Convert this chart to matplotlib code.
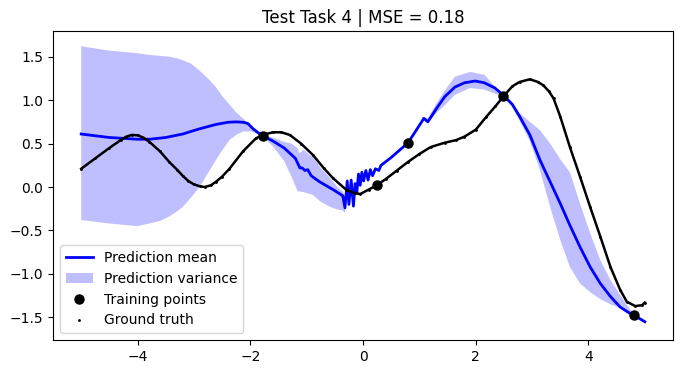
import numpy as np
import matplotlib
matplotlib.use('Agg')
import matplotlib.pyplot as plt

# ground truth
gt_x = [-5.0, -4.75, -4.5, -4.3, -4.2, -4.1, -4.0, -3.9, -3.79, -3.6, -3.44, -3.3, -3.2, -3.1, -3.0,
        -2.9, -2.81, -2.7, -2.61, -2.5, -2.37, -2.13, -1.9, -1.78, -1.6, -1.45, -1.3, -1.1, -0.89, -0.7,
        -0.53, -0.3, -0.15, -0.05, 0.1, 0.24, 0.4, 0.6, 0.8, 1.0, 1.2, 1.45, 1.65, 1.8, 2.0, 2.19,
        2.35, 2.5, 2.65, 2.78, 2.96, 3.1, 3.2, 3.3, 3.38, 3.5, 3.67, 3.85, 4.03, 4.21, 4.39, 4.56,
        4.68, 4.83, 4.95, 5.0]
gt_y = [0.21, 0.33, 0.45, 0.54, 0.58, 0.60, 0.595, 0.57, 0.52, 0.41, 0.29, 0.20, 0.13, 0.07, 0.03,
        0.01, 0.00, 0.02, 0.06, 0.12, 0.21, 0.41, 0.56, 0.60, 0.63, 0.63, 0.60, 0.50, 0.37, 0.22,
        0.10, -0.03, -0.07, -0.08, -0.03, 0.02, 0.09, 0.19, 0.29, 0.38, 0.46, 0.51, 0.54, 0.58, 0.66, 0.81,
        0.93, 1.05, 1.16, 1.21, 1.24, 1.21, 1.17, 1.10, 1.02, 0.81, 0.46, 0.12, -0.23, -0.57, -0.92, -1.18,
        -1.32, -1.37, -1.36, -1.33]

# prediction mean
mean_x = [-5.0, -4.75, -4.5, -4.25, -4.0, -3.79, -3.5, -3.2, -2.9, -2.61, -2.4, -2.25, -2.12, -2.04,
          -1.95, -1.85, -1.78, -1.6, -1.4, -1.2, -1.12, -1.08, -1.03, -0.98, -0.92, -0.77, -0.53, -0.36,
          -0.32, -0.28, -0.25, -0.21, -0.17, -0.14, -0.11, -0.08, -0.05, -0.02, 0.01, 0.05, 0.09, 0.13,
          0.17, 0.22, 0.28, 0.32, 0.5, 0.8, 0.95, 1.08, 1.15, 1.3, 1.45, 1.63, 1.8, 1.99, 2.15, 2.34,
          2.5, 2.65, 2.78, 2.96, 3.14, 3.32, 3.5, 3.67, 3.85, 4.03, 4.21, 4.39, 4.56, 4.7, 4.82, 5.0]
mean_y = [0.61, 0.59, 0.57, 0.56, 0.55, 0.55, 0.57, 0.61, 0.67, 0.72, 0.745, 0.75, 0.745, 0.73,
          0.67, 0.62, 0.59, 0.53, 0.45, 0.33, 0.22, 0.22, 0.19, 0.20, 0.13, 0.06, -0.03, -0.10,
          -0.24, 0.07, -0.20, 0.08, -0.22, 0.04, -0.06, 0.15, 0.02, 0.17, 0.07, 0.19, 0.08, 0.20,
          0.13, 0.21, 0.19, 0.25, 0.34, 0.51, 0.66, 0.79, 0.75, 0.90, 1.04, 1.15, 1.20, 1.22, 1.20, 1.14,
          1.05, 0.95, 0.81, 0.60, 0.31, 0.06, -0.19, -0.44, -0.69, -0.92, -1.11, -1.26, -1.38, -1.44, -1.48, -1.55]

# prediction variance band (nan = gap)
band_x = [-5.0, -4.5, -4.0, -3.79, -3.6, -3.44, -3.3, -3.2, -3.05, -2.9, -2.75, -2.61, -2.49, -2.37,
          -2.25, -2.13, -1.98, -1.88, -1.78, -1.6, -1.4, -1.27, -1.16, -1.13, -1.05, -0.95, -0.89,
          -0.75, -0.58, -0.45, -0.36, -0.32, -0.3,
          1.05, 1.15, 1.3, 1.45, 1.63, 1.9, 2.16, 2.4, 2.5, 2.65, 2.78, 2.96, 3.14, 3.32, 3.5, 3.67,
          3.85, 4.03, 4.21, 4.39, 4.56, 4.74, 4.82, 5.0]
band_lo = [-0.38, -0.42, -0.45, -0.42, -0.39, -0.34, -0.28, -0.23, -0.12, 0.0, 0.16, 0.31, 0.43, 0.54,
           0.60, 0.64, 0.64, 0.61, 0.58, 0.47, 0.30, 0.12, -0.05, -0.05, -0.06, -0.08, -0.09,
           -0.17, -0.23, -0.26, -0.27, -0.30, np.nan,
           0.78, 0.74, 0.85, 0.94, 1.06, 1.14, 1.12, 1.06, 1.04, 0.92, 0.76, 0.53, 0.195, -0.23, -0.61, -0.92,
           -1.11, -1.21, -1.29, -1.35, -1.39, -1.45, -1.49, -1.57]
band_hi = [1.62, 1.57, 1.54, 1.52, 1.51, 1.50, 1.48, 1.46, 1.42, 1.34, 1.25, 1.15, 1.04, 0.95,
           0.86, 0.79, 0.70, 0.63, 0.60, 0.57, 0.52, 0.50, 0.445, 0.39, 0.43, 0.37, 0.35,
           0.22, 0.10, 0.0, -0.05, -0.10, np.nan,
           0.81, 0.79, 0.96, 1.11, 1.27, 1.325, 1.29, 1.11, 1.06, 0.97, 0.85, 0.75, 0.655, 0.50, 0.32, 0.17,
           -0.19, -0.53, -0.84, -1.07, -1.24, -1.41, -1.46, -1.54]

# training points
train_x = [-1.78, 0.24, 0.80, 2.49, 4.81]
train_y = [0.59, 0.02, 0.51, 1.05, -1.47]

fig = plt.figure(figsize=(6.83, 3.74), dpi=100)
ax = fig.add_axes([0.0776, 0.091, 0.9078, 0.8248])

ax.plot(mean_x, mean_y, 'b', lw=2, label='Prediction mean')
ax.fill_between(band_x, band_lo, band_hi, color='b', alpha=0.25, lw=0, label='Prediction variance')
ax.plot(train_x, train_y, 'ko', markersize=6.5, label='Training points')
ax.plot(gt_x, gt_y, color='k', lw=1.8)
ax.plot(gt_x, gt_y, 'k.', markersize=2, label='Ground truth')

ax.set_xlim(-5.5, 5.5)
ax.set_ylim(-1.76, 1.79)
ax.set_title('Test Task 4 | MSE = 0.18')
ax.legend(loc='lower left')

plt.savefig('out.png', dpi=100)
